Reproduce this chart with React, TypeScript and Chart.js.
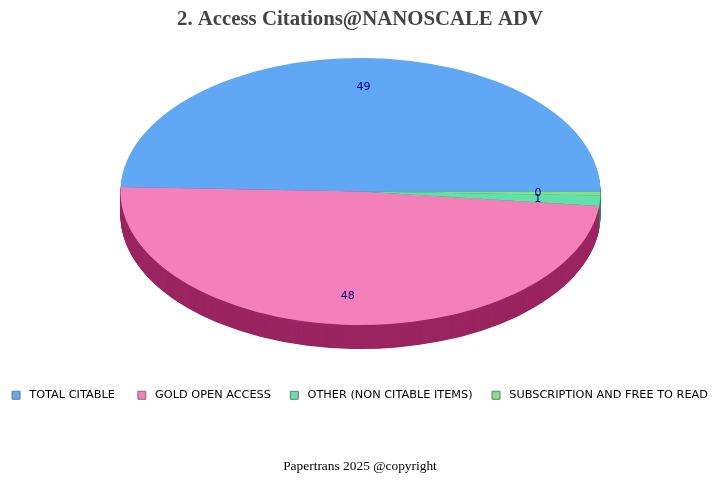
import React, { useEffect, useRef } from "react";
import { Chart, registerables } from "chart.js";

Chart.register(...registerables);

const categories = ["TOTAL CITABLE", "GOLD OPEN ACCESS", "OTHER (NON CITABLE ITEMS)", "SUBSCRIPTION AND FREE TO READ"];
const sliceValues = [49.45, 48.83, 1.25, 0.47];
const shownLabels = ["49", "48", "1", "0"];
const topColors = ["#60a8f5", "#f480ba", "#62e0ac", "#84e084"];
const sideColors = ["#2a5f99", "#9a2560", "#2a8a62", "#3f8f3f"];
const titleText = "2. Access Citations@NANOSCALE ADV";
const footerText = "Papertrans 2025 @copyright";

const TILT = 133.5 / 240;
const DEPTH = 24;
const CENTER_Y = 191.5;

const project = (chart: any, el: any, ctx: CanvasRenderingContext2D, lift = 0) => {
  ctx.translate(chart.width / 2 + 0.5, CENTER_Y + lift);
  ctx.scale(-1, TILT);
  ctx.translate(-el.x, -el.y);
};

const pie3d = {
  id: "pie3d",
  beforeInit(chart: any) {
    chart.ctx.fontKerning = "none";
  },
  beforeDatasetsDraw(chart: any) {
    const { ctx } = chart;
    const arcs = chart.getDatasetMeta(0).data;
    const order = [0, 3, 2, 1];
    for (const i of order) {
      const el = arcs[i];
      ctx.fillStyle = sideColors[i];
      for (let d = DEPTH; d >= 2; d -= 0.5) {
        ctx.save();
        project(chart, el, ctx, d);
        ctx.beginPath();
        ctx.moveTo(el.x, el.y);
        ctx.arc(el.x, el.y, el.outerRadius, el.startAngle, el.endAngle);
        ctx.closePath();
        ctx.fill();
        ctx.restore();
      }
    }
    ctx.save();
    project(chart, arcs[0], ctx);
  },
  afterDatasetsDraw(chart: any) {
    const { ctx } = chart;
    ctx.restore();
    const arcs = chart.getDatasetMeta(0).data;
    ctx.save();
    ctx.font = "11px 'DejaVu Sans'";
    ctx.fillStyle = "#00008b";
    ctx.textAlign = "center";
    ctx.textBaseline = "middle";
    arcs.forEach((el: any, i: number) => {
      const mid = (el.startAngle + el.endAngle) / 2;
      const x = chart.width / 2 + 0.5 - Math.cos(mid) * el.outerRadius * 0.74;
      const y = CENTER_Y + Math.sin(mid) * el.outerRadius * TILT * 0.785;
      ctx.fillText(shownLabels[i], x, y);
    });
    ctx.restore();
  },
};

export default function App() {
  const ref = useRef<HTMLCanvasElement>(null);
  useEffect(() => {
    const chart = new Chart(ref.current as HTMLCanvasElement, {
      type: "pie",
      plugins: [pie3d],
      data: {
        labels: categories,
        datasets: [{ data: sliceValues, backgroundColor: topColors, borderWidth: 0, radius: 240 } as any],
      },
      options: {
        responsive: false,
        animation: false,
        rotation: -90,
        plugins: {
          tooltip: { enabled: false },
          title: {
            display: true,
            text: titleText,
            color: "#444444",
            font: { family: "'Liberation Serif'", size: 20.8, weight: "bold" },
            padding: { top: 7, bottom: 8 },
          },
          subtitle: {
            display: true,
            position: "bottom",
            text: footerText,
            color: "#000000",
            font: { family: "'Liberation Serif'", size: 13.4, weight: "normal" },
            padding: { top: 48, bottom: 5 },
          },
          legend: {
            position: "bottom",
            labels: {
              boxWidth: 8,
              boxHeight: 8,
              padding: 5,
              color: "#000000",
              font: { family: "'DejaVu Sans'", size: 11.3 },
              generateLabels: () =>
                categories.map((c, i) => ({
                  text: "\u00a0" + c + (i === 0 ? "\u00a0\u00a0\u00a0\u00a0\u00a0" : i < categories.length - 1 ? "\u00a0\u00a0\u00a0\u00a0" : ""),
                  fillStyle: topColors[i],
                  strokeStyle: "#777777",
                  lineWidth: 1,
                  index: i,
                })),
            },
          },
        },
      },
    } as any);
    return () => chart.destroy();
  }, []);
  return (
    <div style={{ position: "fixed", left: 0, top: 0, width: 720, height: 480, background: "#fff" }}>
      <canvas ref={ref} width={720} height={480} style={{ display: "block" }} />
    </div>
  );
}
